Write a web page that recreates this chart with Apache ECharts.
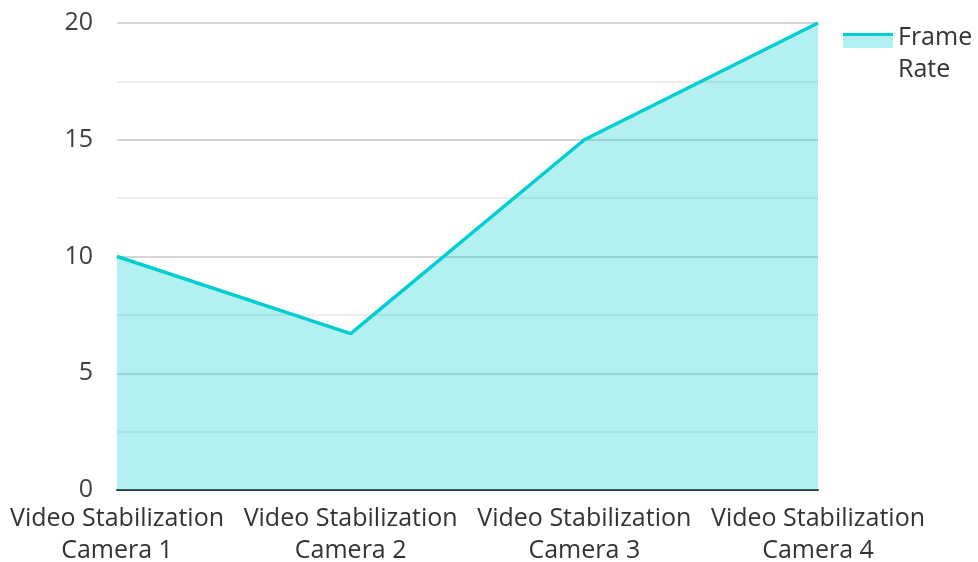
<!DOCTYPE html>
<html><head><meta charset="utf-8">
<script src="https://cdn.jsdelivr.net/npm/echarts@6/dist/echarts.min.js"></script>
<style>html,body{margin:0;padding:0;background:#fff;overflow:hidden}#c{width:978px;height:562px}</style>
</head><body><div id="c"></div>
<script>
var categories = ['Video Stabilization\nCamera 1','Video Stabilization\nCamera 2','Video Stabilization\nCamera 3','Video Stabilization\nCamera 4'];
var frameRate = [10, 6.7, 15, 20];
var seriesName = 'Frame Rate';
var yTicks = [0, 5, 10, 15, 20];

var chart = echarts.init(document.getElementById('c'), null, {renderer: 'canvas', width: 978, height: 562});
var font = '"Open Sans", "Noto Sans", sans-serif';
chart.setOption({
  animation: false,
  textStyle: {fontFamily: font},
  grid: {left: 117, top: 23, width: 701, height: 467, containLabel: false, outerBoundsMode: 'none'},
  legend: {
    show: true, left: 843, top: 22, padding: 0, orient: 'vertical',
    itemWidth: 50, itemHeight: 42,
    icon: 'rect',
    formatter: function (n) { return n.replace(' ', '\n'); },
    textStyle: {fontFamily: font, fontSize: 25, color: '#333', lineHeight: 32},
    itemStyle: {
      color: {type: 'linear', x: 0, y: 0, x2: 0, y2: 1, colorStops: [
        {offset: 0, color: '#00CED1'}, {offset: 0.071, color: '#00CED1'},
        {offset: 0.071, color: '#b2efef'}, {offset: 0.357, color: '#b2efef'},
        {offset: 0.357, color: 'rgba(255,255,255,0)'}, {offset: 1, color: 'rgba(255,255,255,0)'}]},
      borderWidth: 0
    },
    lineStyle: {width: 0, opacity: 0}
  },
  xAxis: {
    type: 'category', data: categories, boundaryGap: false,
    axisLine: {show: true, lineStyle: {color: '#333', width: 2}},
    axisTick: {show: false},
    axisLabel: {fontFamily: font, fontSize: 25, color: '#333', lineHeight: 32, margin: 13, interval: 0},
    splitLine: {show: false}
  },
  yAxis: {
    type: 'value', min: yTicks[0], max: yTicks[yTicks.length - 1], interval: 5,
    axisLine: {show: false}, axisTick: {show: false},
    axisLabel: {fontFamily: font, fontSize: 25, color: '#404040', margin: 24},
    splitLine: {show: true, lineStyle: {color: '#c8c8c8', width: 1.5}},
    minorTick: {show: false, splitNumber: 2},
    minorSplitLine: {show: true, lineStyle: {color: '#e8e8e8', width: 1.5}}
  },
  series: [{
    name: seriesName, type: 'line', data: frameRate,
    symbol: 'none', smooth: false,
    lineStyle: {color: '#00CED1', width: 3.5},
    itemStyle: {color: '#00CED1'},
    areaStyle: {color: '#00CED1', opacity: 0.3}
  }]
});
</script></body></html>
